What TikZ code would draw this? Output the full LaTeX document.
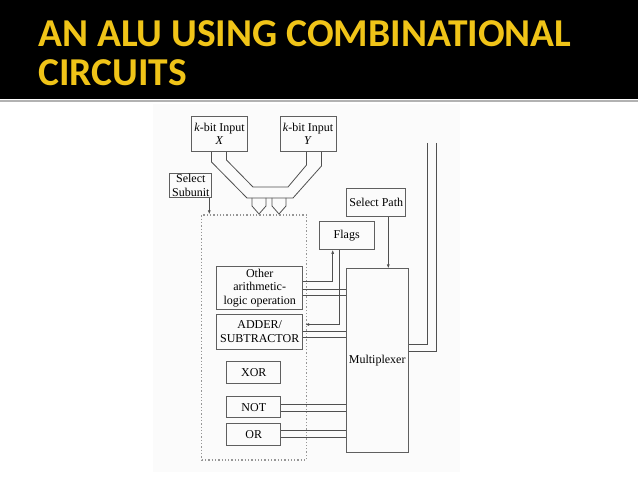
\documentclass[tikz,border=0pt]{standalone}
\usepackage{fontspec}
\setmainfont{Liberation Serif}
\newfontfamily\titlefont{Carlito}
\usetikzlibrary{arrows.meta,positioning,calc}
\definecolor{titleyellow}{RGB}{240,196,24}
\definecolor{linegray}{RGB}{80,80,80}
\definecolor{boxgray}{RGB}{95,95,95}
\definecolor{dotgray}{RGB}{150,150,150}
\newcommand{\lbl}{\fontsize{12}{13.5}\selectfont}

\tikzset{
  unitbox/.style={draw=boxgray, line width=1pt, rectangle, inner sep=0pt, align=center, font=\lbl},
  dotbox/.style={draw=dotgray, line width=1.3pt, dash pattern=on 1.3pt off 2pt, rectangle, inner sep=0pt},
  wire/.style={draw=linegray, line width=0.8pt},
  titletext/.style={anchor=base west, inner sep=0pt, text=titleyellow, font=\titlefont\bfseries\fontsize{39.5}{38}\selectfont},
}

\begin{document}
\begin{tikzpicture}[x=1pt, y=-1pt, >={Latex[length=4pt,width=3pt]}]
    \useasboundingbox (0,0) rectangle (638,478);
    % title band
    \fill[black] (0,0) rectangle (638,99);
    \draw[gray!60, line width=2pt] (0,101.5) -- (638,101.5);
    \node[titletext] (title1) at (38,47) {AN ALU USING COMBINATIONAL};
    \node[titletext] (title2) at (38,86) {CIRCUITS};
    \fill[gray!3] (153,104) rectangle (460,472);
    % inputs and bus
    \node[unitbox, minimum width=55.6pt, minimum height=35.7pt] (inX) at (219.5,134) {\textit{k}-bit Input\\\textit{X}};
    \node[unitbox, minimum width=56pt, minimum height=35.7pt] (inY) at (308,134) {\textit{k}-bit Input\\\textit{Y}};
    \draw[wire] (211.5,152) -- (211.5,162) -- (247,198) -- (293,198) -- (321.5,166) -- (321.5,152);
    \draw[wire] (226.5,152) -- (226.5,160) -- (253,187) -- (288,187) -- (306.5,165) -- (306.5,152);
    \foreach \px in {259,279}
        \draw[wire] (\px-7,198) -- (\px-7,206) -- (\px,214) -- (\px+7,206) -- (\px+7,198);
    \node[unitbox, minimum width=42pt, minimum height=24pt] (selsub) at (190.8,185.3) {Select\\Subunit};
    % subunits
    \node[dotbox, minimum width=105pt, minimum height=245pt] (unit) at (254.2,337.5) {};
    \node[unitbox, minimum width=86pt, minimum height=42.6pt] (other) at (259.7,288) {Other\\arithmetic-\\logic operation};
    \node[unitbox, minimum width=86pt, minimum height=35.3pt] (adder) at (259.7,331.7) {ADDER/\\SUBTRACTOR};
    \node[unitbox, minimum width=54.3pt, minimum height=21.6pt] (xorbox) at (253.8,372.5) {XOR};
    \node[unitbox, minimum width=54.3pt, minimum height=21pt] (notbox) at (253.8,407.2) {NOT};
    \node[unitbox, minimum width=54.3pt, minimum height=21.7pt] (orbox) at (253.8,434.2) {OR};
    % output side
    \node[unitbox, minimum width=62.3pt, minimum height=183.5pt] (mux) at (377.2,360.7) {Multiplexer};
    \node[unitbox, minimum width=59.3pt, minimum height=27.7pt] (selpath) at (376.3,202.2) {Select Path};
    \node[unitbox, minimum width=54.7pt, minimum height=27.6pt] (flags) at (346.7,235.5) {Flags};
    \coordinate (pathA) at (427,143);
    \coordinate (pathB) at (436.7,143);
    % connectors
    \draw[wire,->] ([xshift=18.5pt]selsub.south) -- ([xshift=18.5pt]selsub.south |- unit.north);
    \draw[wire,->] ([xshift=12pt]selpath.south) -- ([xshift=12pt]selpath.south |- mux.north);
    \draw[wire,->] ([yshift=6.3pt]other.east) -| ([xshift=-14pt]flags.south);
    \draw[wire,->] ([xshift=-7.4pt]flags.south) |- ([xshift=2pt,yshift=7.2pt]adder.east);
    \foreach \dy in {-1.3,-7}
        \draw[wire] ([yshift=\dy pt]other.east) -- ([yshift=\dy pt]other.east -| mux.west);
    \foreach \dy in {0.7,-5.3}
        \draw[wire] ([yshift=\dy pt]adder.east) -- ([yshift=\dy pt]adder.east -| mux.west);
    \foreach \dy in {2.9,-4.5}
        \draw[wire] ([yshift=\dy pt]notbox.east) -- ([yshift=\dy pt]notbox.east -| mux.west);
    \foreach \dy in {3.5,-3.1}
        \draw[wire] ([yshift=\dy pt]orbox.east) -- ([yshift=\dy pt]orbox.east -| mux.west);
    \draw[wire] (pathA) |- ([yshift=16.7pt]mux.east);
    \draw[wire] (pathB) |- ([yshift=9pt]mux.east);
\end{tikzpicture}
\end{document}
